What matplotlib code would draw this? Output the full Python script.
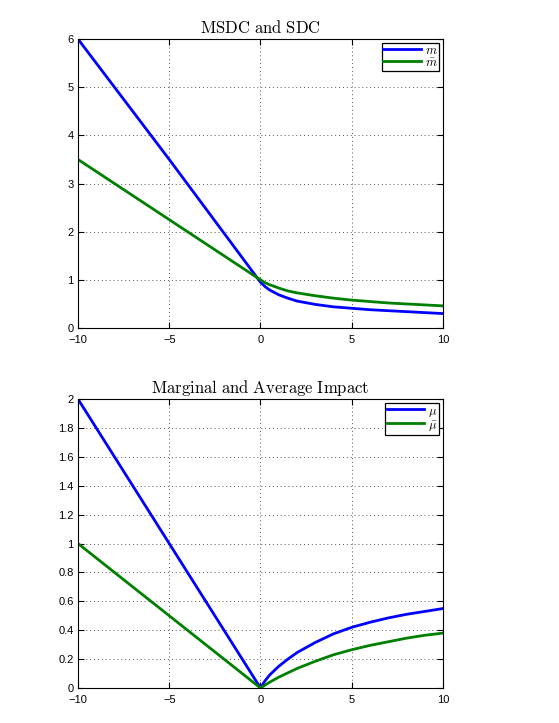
import matplotlib

matplotlib.use("Agg")
import matplotlib.pyplot as plt

plt.rcParams["font.family"] = ["Liberation Sans", "DejaVu Sans"]
plt.rcParams["mathtext.fontset"] = "cm"

# top panel: MSDC (m) and SDC (m bar)
x_top = [-10, -5, 0, 0.25, 0.5, 1, 1.5, 2, 3, 4, 5, 6, 7, 8, 9, 10]
m_vals = [6.0, 3.5, 0.95, 0.86, 0.79, 0.69, 0.62, 0.56, 0.49, 0.44, 0.41, 0.38, 0.36, 0.34, 0.32, 0.30]
m_bar_vals = [3.5, 2.25, 1.0, 0.94, 0.9, 0.83, 0.77, 0.73, 0.67, 0.62, 0.58, 0.55, 0.52, 0.50, 0.48, 0.46]

# bottom panel: marginal (mu) and average (mu bar) impact
x_bot = [-10, -5, 0, 0.25, 0.5, 1, 1.5, 2, 3, 4, 5, 6, 7, 8, 9, 10]
mu_vals = [2.0, 1.0, 0.0, 0.05, 0.09, 0.15, 0.2, 0.245, 0.315, 0.375, 0.42, 0.455, 0.485, 0.51, 0.53, 0.55]
mu_bar_vals = [1.0, 0.5, 0.0, 0.02, 0.04, 0.075, 0.105, 0.135, 0.185, 0.23, 0.265, 0.295, 0.32, 0.345, 0.365, 0.38]

BLUE = (0, 0, 1)
GREEN = (0, 0.5, 0)


def style_axes(ax, yticks, ylabels):
    ax.set_xlim(-10, 10)
    ax.set_xticks([-10, -5, 0, 5, 10])
    ax.set_xticklabels(["\u221210", "\u22125", "0", "5", "10"])
    ax.set_yticks(yticks)
    ax.set_yticklabels(ylabels)
    ax.tick_params(direction="in", top=True, right=True, labelsize=8, length=4)
    ax.tick_params(axis="x", pad=5)
    ax.tick_params(axis="y", pad=3)
    ax.grid(True, linestyle=(0, (1, 3)), color="#555555", linewidth=0.7)
    for spine in ax.spines.values():
        spine.set_linewidth(0.8)
    leg = ax.legend(loc="upper right", fontsize=9, handlelength=3.0,
                    borderpad=0.15, labelspacing=0.0, handletextpad=0.3,
                    fancybox=False, framealpha=1, borderaxespad=0.3)
    leg.get_frame().set_edgecolor("black")
    leg.get_frame().set_linewidth(0.9)


fig = plt.figure(figsize=(5.59, 7.23), dpi=100)

ax1 = fig.add_axes([0.1395, 0.5463, 0.653, 0.3997])
ax1.plot(x_top, m_vals, color=BLUE, linewidth=2, label=r"$m$")
ax1.plot(x_top, m_bar_vals, color=GREEN, linewidth=2, label=r"$\bar{m}$")
ax1.set_ylim(0, 6)
style_axes(ax1, range(7), [str(v) for v in range(7)])
ax1.set_title(r"$\mathrm{MSDC\ and\ SDC}$", fontsize=12, pad=4)

ax2 = fig.add_axes([0.1395, 0.0484, 0.653, 0.3997])
ax2.plot(x_bot, mu_vals, color=BLUE, linewidth=2, label=r"$\mu$")
ax2.plot(x_bot, mu_bar_vals, color=GREEN, linewidth=2, label=r"$\bar{\mu}$")
ax2.set_ylim(0, 2)
yt = [i * 0.2 for i in range(11)]
yl = ["0", "0.2", "0.4", "0.6", "0.8", "1", "1.2", "1.4", "1.6", "1.8", "2"]
style_axes(ax2, yt, yl)
ax2.set_title(r"$\mathrm{Marginal\ and\ Average\ Impact}$", fontsize=12, pad=4)

fig.savefig("out.png", dpi=100)
